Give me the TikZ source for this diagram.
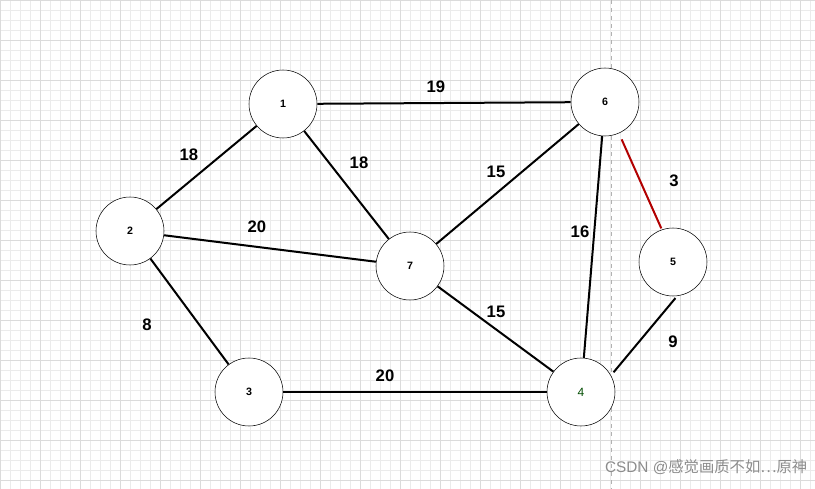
\documentclass[tikz,border=0pt]{standalone}
\usepackage{fontspec}
\setmainfont{Liberation Sans}
\newfontfamily\cjk{Noto Sans CJK SC}
\begin{document}
\begin{tikzpicture}[x=0.75pt,y=-0.75pt,
  vtx/.style={circle,draw,fill=white,minimum size=51pt,inner sep=0pt,font=\bfseries\fontsize{8}{9}\selectfont},
  edge/.style={line width=1.5pt},
  wlab/.style={font=\bfseries\fontsize{12.5}{14}\selectfont}]
\useasboundingbox (0,0) rectangle (815,489);
\fill[white] (0,0) rectangle (815,489);
\foreach \i in {0,10,...,810} \draw[black!8,line width=0.4pt] (\i,0) -- (\i,489);
\foreach \j in {0,10,...,480} \draw[black!8,line width=0.4pt] (0,\j) -- (815,\j);
\foreach \i in {0,40,...,800} \draw[black!14,line width=0.4pt] (\i,0) -- (\i,489);
\foreach \j in {0,40,...,480} \draw[black!14,line width=0.4pt] (0,\j) -- (815,\j);
\draw[black!30,dashed,line width=0.5pt] (611,0) -- (611,489);
\node[vtx] (n1) at (283,104) {1};
\node[vtx] (n6) at (605,102) {6};
\node[vtx] (n2) at (130,231) {2};
\node[vtx] (n7) at (410,266) {7};
\node[vtx] (n5) at (673,262) {5};
\node[vtx] (n3) at (249,392) {3};
\node[vtx,font=\fontsize{9}{10}\selectfont,text=black!70!green] (n4) at (581,392) {4};
\draw[edge] (n1) -- (n6);
\draw[edge] (n1) -- (n2);
\draw[edge] (n1) -- (n7);
\draw[edge] (n2) -- (n7);
\draw[edge] (n6) -- (n7);
\draw[edge] (n6) -- (n4);
\draw[edge,red!70!black,shorten <=5pt,shorten >=1pt] (n6.-66) -- (n5.109);
\draw[edge,shorten <=2pt,shorten >=3pt] (n5.-83) -- (n4.29);
\draw[edge] (n7) -- (n4);
\draw[edge] (n2) -- (n3);
\draw[edge] (n3) -- (n4);
\node[wlab] (w16) at (436,87) {19};
\node[wlab] (w12) at (189,155) {18};
\node[wlab] (w17) at (359,163) {18};
\node[wlab] (w27) at (257,227) {20};
\node[wlab] (w67) at (496,172) {15};
\node[wlab] (w64) at (580,232) {16};
\node[wlab] (w65) at (674,181) {3};
\node[wlab] (w54) at (673,342) {9};
\node[wlab] (w74) at (496,312) {15};
\node[wlab] (w23) at (147,325) {8};
\node[wlab] (w34) at (385,376) {20};
\node[anchor=east,text=black!45,font=\fontsize{11.5}{13}\selectfont] (wm) at (812,467) {CSDN @{\cjk 感觉画质不如…原神}};
\end{tikzpicture}
\end{document}
